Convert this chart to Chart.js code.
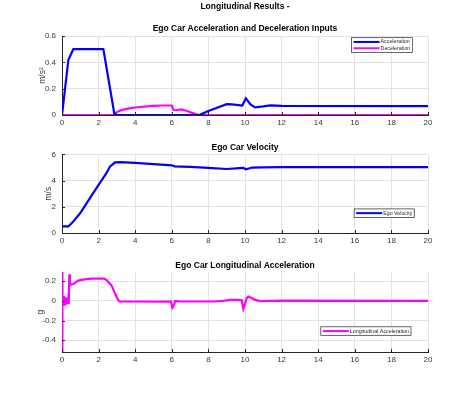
<!DOCTYPE html>
<html>
<head>
<meta charset="utf-8">
<script src="https://cdn.jsdelivr.net/npm/chart.js@4"></script>
<style>
  body { margin: 0; background: #ffffff; }
  #wrap { position: relative; width: 474px; height: 395px; }
  canvas { position: absolute; left: 0; }
</style>
</head>
<body>
<div id="wrap">
  <canvas id="accChart" width="474" height="135" style="top:0px"></canvas>
  <canvas id="velChart" width="474" height="118" style="top:135px"></canvas>
  <canvas id="lonChart" width="474" height="119" style="top:253px"></canvas>
</div>
<script>
// x ticks shared by all three plots
const timeTicks = [0, 2, 4, 6, 8, 10, 12, 14, 16, 18, 20];

// Ego car acceleration input (m/s^2)
const accTime = [0, 0.35, 0.62, 2.26, 2.86, 3.0, 7.5, 8.0, 9.0, 9.3, 9.85, 10.05, 10.3, 10.55, 11.0, 11.4, 12.0, 20];
const accValue = [0, 0.42, 0.5, 0.5, 0.01, 0, 0, 0.03, 0.082, 0.081, 0.072, 0.127, 0.08, 0.058, 0.065, 0.073, 0.07, 0.068];

// Ego car deceleration input (m/s^2)
const decTime = [0, 2.85, 3.0, 3.2, 3.6, 4.0, 4.5, 5.0, 5.5, 6.0, 6.08, 6.3, 6.5, 6.8, 7.1, 7.45, 20];
const decValue = [0, 0, 0.022, 0.035, 0.048, 0.057, 0.064, 0.069, 0.072, 0.072, 0.04, 0.038, 0.042, 0.032, 0.016, 0, 0];

// Ego car velocity (m/s)
const velTime = [0, 0.35, 0.6, 1.0, 1.5, 2.0, 2.4, 2.62, 2.9, 3.2, 4.0, 5.0, 6.0, 6.15, 7.0, 8.0, 9.0, 9.5, 9.9, 10.05, 10.4, 11.0, 12.0, 20];
const velValue = [0.5, 0.5, 0.85, 1.52, 2.6, 3.67, 4.5, 5.06, 5.39, 5.41, 5.34, 5.25, 5.16, 5.08, 5.04, 4.97, 4.88, 4.92, 4.97, 4.86, 4.99, 5.0, 5.02, 5.02];

// Ego car longitudinal acceleration (g)
const lonTime = [0, 0.005, 0.02, 0.04, 0.06, 0.08, 0.1, 0.13, 0.16, 0.19, 0.22, 0.25, 0.28, 0.31, 0.34, 0.37, 0.4, 0.43, 0.62, 0.89, 1.16, 1.6, 2.3, 2.44, 2.71, 2.99, 3.13, 5.95, 6.03, 6.1, 6.18, 6.4, 8.3, 8.8, 9.2, 9.6, 9.82, 9.91, 10.0, 10.1, 10.18, 10.5, 10.8, 12.0, 20];
const lonValue = [0.29, -0.52, 0.06, -0.06, 0.05, -0.05, 0.045, -0.04, 0.04, -0.045, 0.03, -0.035, 0.03, -0.03, 0.02, -0.03, 0.27, 0.16, 0.17, 0.206, 0.216, 0.225, 0.225, 0.21, 0.155, 0.037, -0.007, -0.008, -0.07, -0.05, -0.004, -0.006, -0.007, 0.0, 0.01, 0.01, 0.006, -0.081, -0.03, 0.03, 0.044, 0.015, -0.003, 0.002, 0.0];

const BLUE = "#0000ff";
const MAGENTA = "#ff00ff";
const AXIS = "#262626";
const GRID = "#e2e2e2";
const FONT = "'Liberation Sans', Arial, sans-serif";

function toPoints(xs, ys) {
  return xs.map((x, i) => ({ x: x, y: ys[i] }));
}

function series(label, xs, ys, color) {
  return {
    label: label,
    data: toPoints(xs, ys),
    borderColor: color,
    backgroundColor: color,
    borderWidth: 2.2,
    pointRadius: 0,
    tension: 0,
    fill: false,
  };
}

// MATLAB-like legend box drawn inside the plot area
const boxLegend = {
  id: "boxLegend",
  afterDatasetsDraw(chart, args, opts) {
    const ctx = chart.ctx;
    const ca = chart.chartArea;
    const sets = chart.data.datasets;
    ctx.save();
    ctx.font = "5.3px " + FONT;
    const textW = Math.max(...sets.map((d) => ctx.measureText(d.label).width));
    const w = 2 + 26 + 1 + textW + 2;
    const h = 2.2 + sets.length * 6.3;
    const x = ca.right - opts.right - w;
    const y = opts.top != null ? ca.top + opts.top : ca.bottom - opts.bottom - h;
    ctx.fillStyle = "#ffffff";
    ctx.fillRect(x, y, w, h);
    ctx.strokeStyle = AXIS;
    ctx.lineWidth = 0.7;
    ctx.strokeRect(x, y, w, h);
    sets.forEach((d, i) => {
      const cy = y + 1.1 + 3.15 + i * 6.3;
      ctx.strokeStyle = d.borderColor;
      ctx.lineWidth = 2;
      ctx.beginPath();
      ctx.moveTo(x + 2, cy);
      ctx.lineTo(x + 28, cy);
      ctx.stroke();
      ctx.fillStyle = AXIS;
      ctx.textBaseline = "middle";
      ctx.textAlign = "left";
      ctx.fillText(d.label, x + 29, cy);
    });
    ctx.restore();
  },
};

// small inward tick marks like MATLAB axes
const innerTicks = {
  id: "innerTicks",
  afterDraw(chart) {
    const ctx = chart.ctx;
    const ca = chart.chartArea;
    const xs = chart.scales.x;
    const ys = chart.scales.y;
    ctx.save();
    ctx.strokeStyle = AXIS;
    ctx.lineWidth = 1;
    ctx.beginPath();
    xs.ticks.forEach((t) => {
      const px = Math.round(xs.getPixelForValue(t.value)) + 0.5;
      ctx.moveTo(px, ca.bottom);
      ctx.lineTo(px, ca.bottom - 3);
    });
    ys.ticks.forEach((t) => {
      const py = Math.round(ys.getPixelForValue(t.value)) + 0.5;
      ctx.moveTo(ca.left, py);
      ctx.lineTo(ca.left + 3, py);
    });
    ctx.stroke();
    ctx.restore();
  },
};

function makeOptions(cfg) {
  return {
    responsive: false,
    animation: false,
    devicePixelRatio: 1,
    layout: { padding: { top: cfg.padTop, left: 0, right: 46, bottom: 0 } },
    plugins: {
      legend: { display: false },
      tooltip: { enabled: false },
      title: cfg.title,
      subtitle: cfg.subtitle || { display: false },
      boxLegend: cfg.legend,
    },
    scales: {
      x: {
        type: "linear",
        min: 0,
        max: 20,
        afterBuildTicks: (s) => { s.ticks = timeTicks.map((v) => ({ value: v })); },
        afterFit: (s) => { s.height = 20; },
        grid: { color: GRID, drawTicks: false },
        border: { color: AXIS, width: 1 },
        ticks: { color: "#383838", padding: 3, font: { family: FONT, size: 8 } },
      },
      y: {
        type: "linear",
        min: cfg.yMin,
        max: cfg.yMax,
        afterBuildTicks: (s) => { s.ticks = cfg.yTicks.map((v) => ({ value: v })); },
        afterFit: (s) => { s.width = 62; },
        grid: { color: GRID, drawTicks: false },
        border: { color: AXIS, width: 1 },
        ticks: { color: "#383838", padding: 6, font: { family: FONT, size: 8 } },
        title: {
          display: true,
          text: cfg.yLabel,
          color: "#383838",
          padding: { top: cfg.yLabelPad, bottom: 0 },
          font: { family: FONT, size: 8.5 },
        },
      },
    },
  };
}

function titleOpts(text, top, bottom) {
  return {
    display: true,
    fullSize: false,
    text: text,
    color: "#000000",
    padding: { top: top, bottom: bottom },
    font: { family: FONT, size: 8.5, weight: "bold", lineHeight: 1.2 },
  };
}

const ctxA = document.getElementById("accChart").getContext("2d");
new Chart(ctxA, {
  type: "line",
  data: {
    datasets: [
      series("Acceleration", accTime, accValue, BLUE),
      series("Deceleration", decTime, decValue, MAGENTA),
    ],
  },
  options: makeOptions({
    padTop: 2,
    title: titleOpts("Longitudinal Results -", 0, 11.7),
    subtitle: titleOpts("Ego Car Acceleration and Deceleration Inputs", 0, 1.9),
    yMin: 0,
    yMax: 0.6,
    yTicks: [0, 0.2, 0.4, 0.6],
    yLabel: "m/s²",
    yLabelPad: 37.2,
    legend: { right: 15.7, top: 1.7 },
  }),
  plugins: [boxLegend, innerTicks],
});

const ctxV = document.getElementById("velChart").getContext("2d");
new Chart(ctxV, {
  type: "line",
  data: {
    datasets: [series("Ego Velocity", velTime, velValue, BLUE)],
  },
  options: makeOptions({
    padTop: 0,
    title: titleOpts("Ego Car Velocity", 7.2, 1.9),
    yMin: 0,
    yMax: 6,
    yTicks: [0, 2, 4, 6],
    yLabel: "m/s",
    yLabelPad: 43.2,
    legend: { right: 13.7, bottom: 15.6 },
  }),
  plugins: [boxLegend, innerTicks],
});

const ctxL = document.getElementById("lonChart").getContext("2d");
new Chart(ctxL, {
  type: "line",
  data: {
    datasets: [series("Longitudinal Acceleration", lonTime, lonValue, MAGENTA)],
  },
  options: makeOptions({
    padTop: 0,
    title: titleOpts("Ego Car Longitudinal Acceleration", 7.9, 1.2),
    yMin: -0.52,
    yMax: 0.29,
    yTicks: [-0.4, -0.2, 0, 0.2],
    yLabel: "g",
    yLabelPad: 35.7,
    legend: { right: 17, bottom: 16.7 },
  }),
  plugins: [boxLegend, innerTicks],
});
</script>
</body>
</html>
